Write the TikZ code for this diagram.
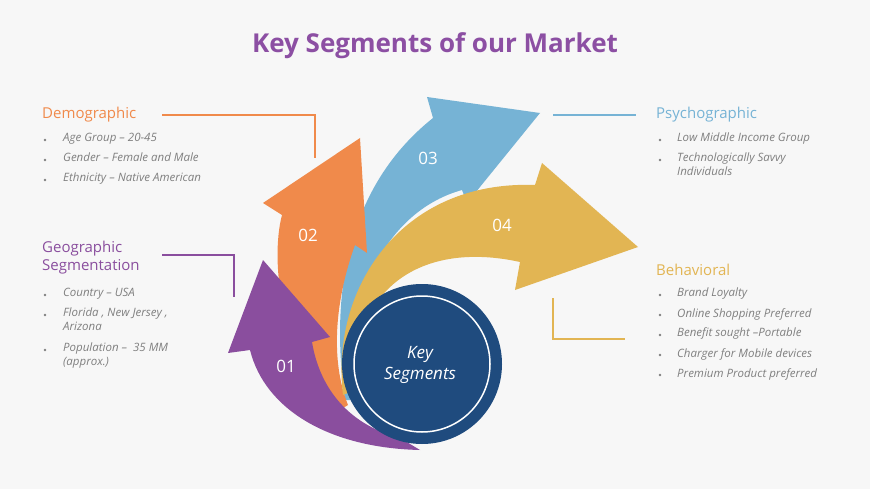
\documentclass[tikz,border=0pt]{standalone}
\usepackage{fontspec}
\setmainfont{Open Sans}
\definecolor{bg}{HTML}{F7F7F7}
\definecolor{ttl}{HTML}{8C4FA3}
\definecolor{pur}{HTML}{8A4E9E}
\definecolor{ora}{HTML}{F08A4B}
\definecolor{blu}{HTML}{76B3D5}
\definecolor{yel}{HTML}{E2B553}
\definecolor{navy}{HTML}{1F4B7E}
\definecolor{txt}{HTML}{7F7F7F}
\begin{document}
\begin{tikzpicture}[x=1pt,y=-1pt,
  head/.style={font=\fontsize{15}{18}\selectfont,anchor=west,inner sep=0pt},
  item/.style={font=\fontsize{11.5}{14}\selectfont\itshape,text=txt,anchor=north west,inner sep=0pt,align=left},
  dot/.style={circle,fill=txt,inner sep=0pt,minimum size=2.6pt},
  num/.style={font=\fontsize{17}{20}\selectfont,text=white},
  lead/.style={line width=1.2pt}]
\fill[bg] (0,0) rectangle (870,489);
\useasboundingbox (0,0) rectangle (870,489);
\node[font=\fontsize{26}{30}\selectfont\bfseries,text=ttl] (title) at (435,46) {Key Segments of our Market};
% arrows
\fill[blu] (345,400) .. controls (335,330) and (330,200) .. (433,118) -- (427,97) -- (540,113) -- (467,203) -- (462,190) .. controls (390,210) and (345,290) .. (350,400) -- cycle;
\fill[ora] (340,410) .. controls (280,360) and (270,260) .. (282,215) -- (263,203) -- (360,138) -- (367,253) -- (355,245) .. controls (335,300) and (330,360) .. (348,405) -- cycle;
\fill[yel] (343,395) .. controls (330,290) and (400,180) .. (535,185) -- (542,163) -- (638,247) -- (515,290) -- (520,262) .. controls (420,240) and (350,290) .. (355,390) -- cycle;
\fill[pur] (420,450) .. controls (330,448) and (265,410) .. (250,350) -- (228,353) -- (263,260) -- (330,337) -- (312,342) .. controls (320,390) and (350,425) .. (400,438) -- cycle;
\node[num] (n1) at (286,366) {01};
\node[num] (n2) at (308,235) {02};
\node[num] (n3) at (428,158) {03};
\node[num] (n4) at (502,225) {04};
\fill[navy] (422,364) circle (80);
\draw[white,line width=1.5pt] (422,364) circle (68);
\node[font=\fontsize{17}{21}\selectfont\itshape,text=white,align=center] (key) at (420,365) {Key\\Segments};
% leaders
\coordinate (d1) at (162,115); \coordinate (d2) at (315,115); \coordinate (d3) at (315,158);
\draw[ora,lead] (d1) -- (d2) -- (d3);
\coordinate (p1) at (553,115); \coordinate (p2) at (636,115);
\draw[blu,lead] (p1) -- (p2);
\coordinate (g1) at (162,255); \coordinate (g2) at (234,255); \coordinate (g3) at (234,297);
\draw[pur,lead] (g1) -- (g2) -- (g3);
\coordinate (b1) at (553,298); \coordinate (b2) at (553,339); \coordinate (b3) at (625,339);
\draw[yel,lead] (b1) -- (b2) -- (b3);
% Demographic
\node[head,text=ora] (hd) at (42,115) {Demographic};
\foreach \t/\y in {Age Group -- 20-45/133, Gender -- Female and Male/153, Ethnicity -- Native American/173}{
  \node[dot] at (45,\y+7) {}; \node[item] at (63,\y) {\t};}
% Geographic
\node[head,text=pur,align=left,anchor=north west] (hg) at (42,241) {Geographic\\Segmentation};
\node[dot] (gd1) at (45,295) {}; \node[item] (gi1) at (63,288) {Country -- USA};
\node[dot] (gd2) at (45,315) {}; \node[item] (gi2) at (63,308) {Florida , New Jersey ,\\Arizona};
\node[dot] (gd3) at (45,350) {}; \node[item] (gi3) at (63,343) {Population --\ \ 35 MM\\(approx.)};
% Psychographic
\node[head,text=blu] (hp) at (656,115) {Psychographic};
\node[dot] (pd1) at (660,140) {}; \node[item] (pi1) at (677,133) {Low Middle Income Group};
\node[dot] (pd2) at (660,160) {}; \node[item] (pi2) at (677,153) {Technologically Savvy\\Individuals};
% Behavioral
\node[head,text=yel] (hb) at (656,270) {Behavioral};
\foreach \t/\y in {Brand Loyalty/288, Online Shopping Preferred/308, Benefit sought --Portable/328, Charger for Mobile devices/348, Premium Product preferred/368}{
  \node[dot] at (660,\y+7) {}; \node[item] at (677,\y) {\t};}
\end{tikzpicture}
\end{document}
